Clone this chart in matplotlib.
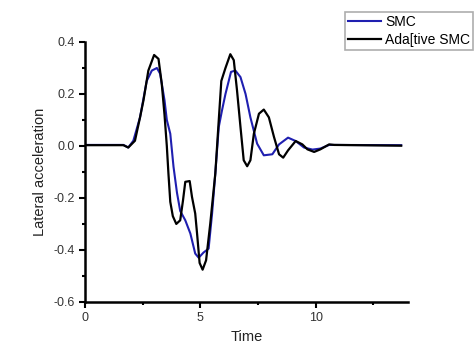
import numpy as np
import matplotlib.pyplot as plt
from matplotlib.ticker import MultipleLocator, FormatStrFormatter

plt.rcParams['font.family'] = ['Liberation Sans', 'DejaVu Sans']

# SMC (blue)
t_smc = [0, 1.67, 1.88, 2.1, 2.39, 2.68, 2.9, 3.12, 3.26, 3.45, 3.55, 3.7, 3.84,
         3.99, 4.13, 4.35, 4.57, 4.78, 4.93, 5.14, 5.36, 5.51, 5.65, 5.8, 5.94,
         6.09, 6.33, 6.52, 6.74, 6.96, 7.17, 7.46, 7.75, 8.12, 8.41, 8.8, 9.13,
         9.49, 9.86, 10.2, 10.58, 13.7]
a_smc = [0.004, 0.004, -0.006, 0.02, 0.11, 0.25, 0.29, 0.30, 0.278, 0.176, 0.10,
         0.047, -0.08, -0.18, -0.25, -0.286, -0.337, -0.414, -0.43, -0.41, -0.395,
         -0.26, -0.106, 0.073, 0.137, 0.20, 0.285, 0.29, 0.265, 0.20, 0.11, 0.009,
         -0.036, -0.032, 0.006, 0.032, 0.019, -0.006, -0.014, -0.01, 0.004, 0.003]

# Adaptive SMC (black)
t_asmc = [0, 1.67, 1.88, 2.17, 2.39, 2.54, 2.75, 3.0, 3.19, 3.33, 3.45, 3.55, 3.62,
          3.7, 3.81, 3.96, 4.13, 4.25, 4.35, 4.54, 4.64, 4.78, 4.86, 4.97, 5.1,
          5.25, 5.43, 5.65, 5.8, 5.91, 6.09, 6.3, 6.45, 6.59, 6.74, 6.88, 7.03,
          7.17, 7.32, 7.54, 7.75, 7.97, 8.19, 8.41, 8.59, 8.8, 9.13, 9.42, 9.64,
          9.93, 10.2, 10.58, 10.8, 13.7]
a_asmc = [0.003, 0.003, -0.006, 0.02, 0.11, 0.176, 0.29, 0.35, 0.335, 0.24, 0.12,
          0.0, -0.106, -0.215, -0.27, -0.30, -0.286, -0.21, -0.138, -0.135, -0.196,
          -0.26, -0.337, -0.45, -0.476, -0.44, -0.30, -0.106, 0.10, 0.25, 0.30,
          0.353, 0.33, 0.214, 0.073, -0.055, -0.078, -0.055, 0.047, 0.124, 0.14,
          0.11, 0.035, -0.032, -0.045, -0.017, 0.019, 0.006, -0.013, -0.023, -0.013,
          0.006, 0.004, 0.001]

fig = plt.figure(figsize=(4.74, 3.62), dpi=100)
ax = fig.add_axes([0.179, 0.166, 0.682, 0.718])

l1, = ax.plot(t_smc, a_smc, color='#1f1fb0', lw=1.5, label='SMC')
l2, = ax.plot(t_asmc, a_asmc, color='black', lw=1.6, label='Ada[tive SMC')

ax.set_xlim(0, 14)
ax.set_ylim(-0.6, 0.4)
ax.xaxis.set_major_locator(MultipleLocator(5))
ax.xaxis.set_minor_locator(MultipleLocator(2.5))
ax.yaxis.set_major_locator(MultipleLocator(0.2))
ax.yaxis.set_minor_locator(MultipleLocator(0.1))
ax.yaxis.set_major_formatter(FormatStrFormatter('%.1f'))

for s in ['top', 'right']:
    ax.spines[s].set_visible(False)
for s in ['left', 'bottom']:
    ax.spines[s].set_linewidth(1.8)
ax.tick_params(which='major', direction='out', length=4, width=1.5, labelsize=9,
               labelcolor='#333333')
ax.tick_params(which='minor', direction='out', length=2.5, width=1.5)

ax.set_xlabel('Time', fontsize=10.5, color='#222222')
ax.set_ylabel('Lateral acceleration', fontsize=10.5, color='#222222')

leg = fig.legend(handles=[l1, l2], loc='upper right', bbox_to_anchor=(0.998, 0.967),
                 fontsize=10, frameon=True, fancybox=False, borderpad=0.2,
                 handlelength=2.4, handletextpad=0.3, labelspacing=0.3,
                 borderaxespad=0)
leg.get_frame().set_edgecolor('#999999')
leg.get_frame().set_linewidth(1.2)

fig.savefig('out.png', dpi=100)
